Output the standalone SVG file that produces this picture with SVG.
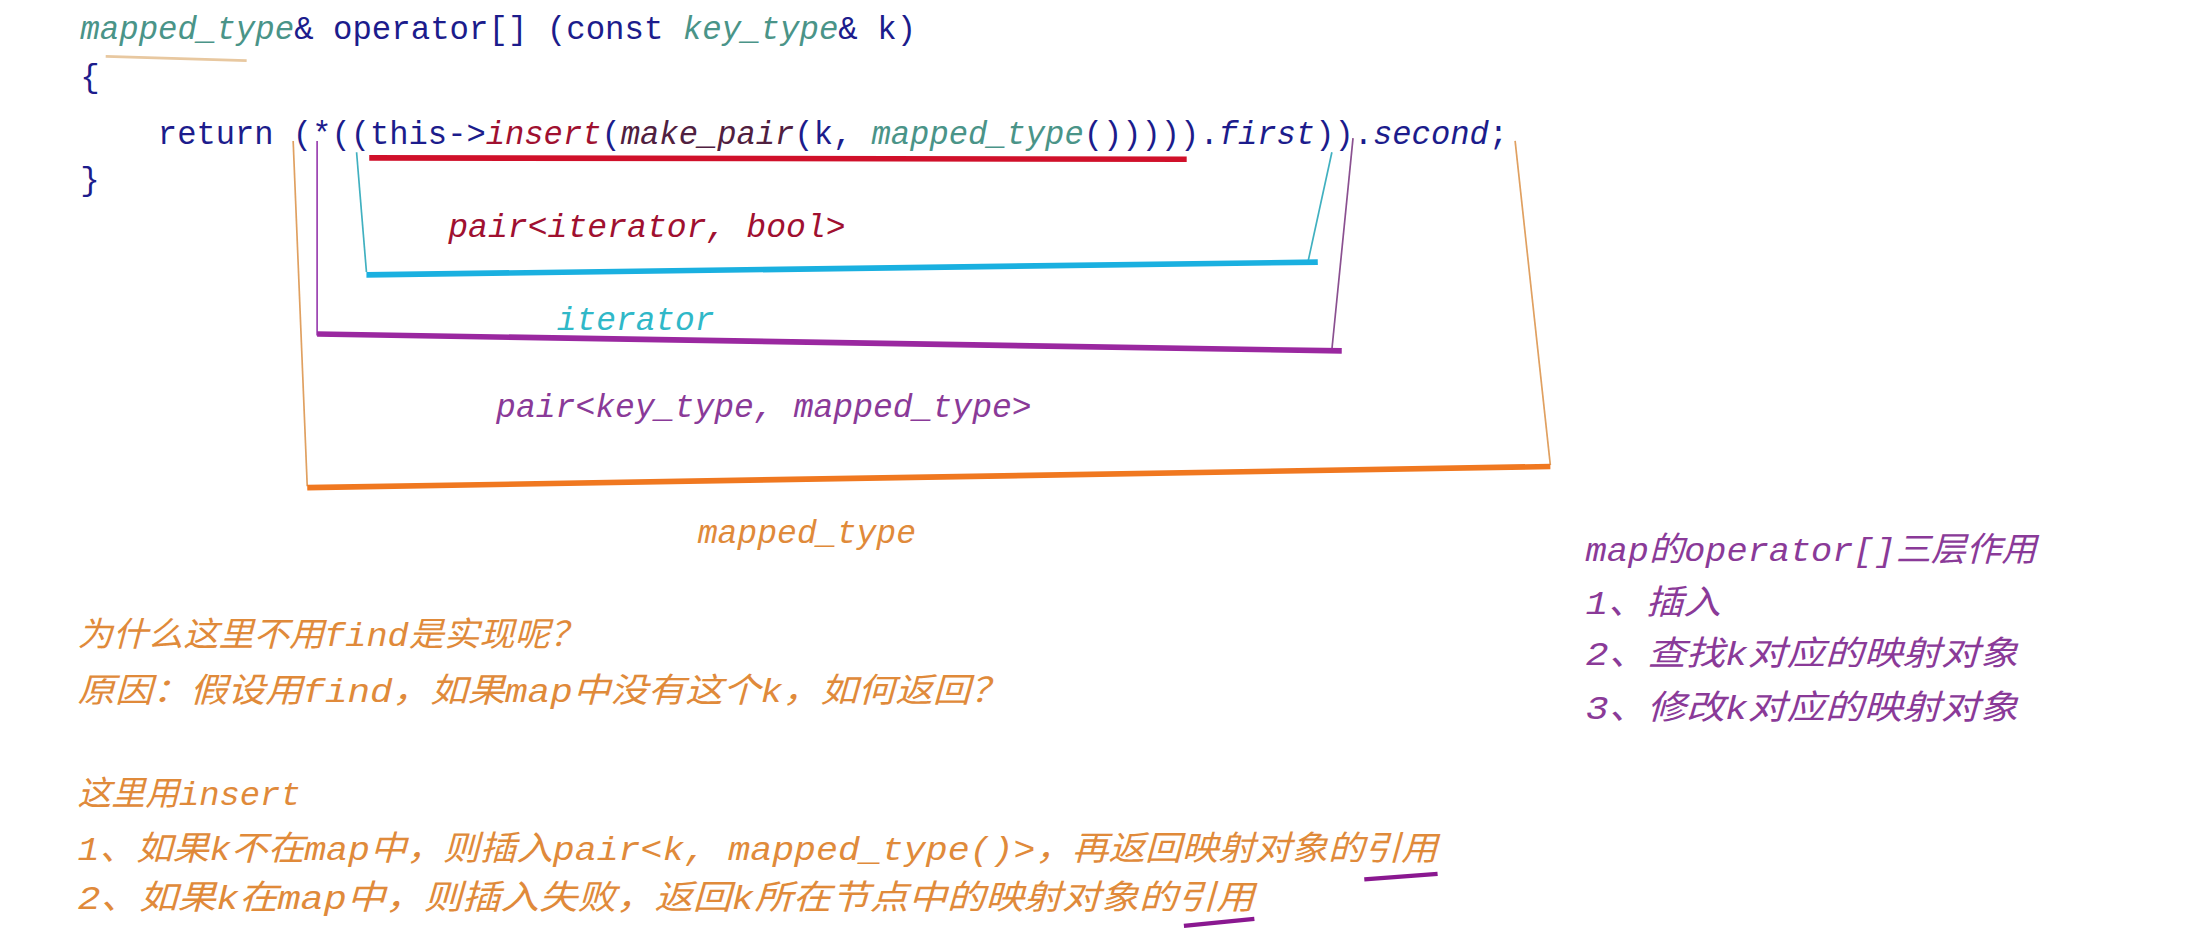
<svg xmlns="http://www.w3.org/2000/svg" width="2210" height="940" viewBox="0 0 2210 940">
<style>
text{font-family:"Liberation Mono","Noto Sans CJK SC",monospace;font-size:23px}
.cj{font-size:24px}
.i{font-style:italic}
.nv{fill:#1c1c8c}.tl{fill:#4a9488}.rd{fill:#a01030}.dk{fill:#502040}
.or{fill:#e08a3a;font-style:italic}.pu{fill:#8a3a98;font-style:italic}
.thin{fill:none;stroke-width:1.2}
</style>
<rect width="2210" height="940" fill="#fff"/>
<g transform="scale(1.4094)">
<g id="code">
<text x="57" y="28" textLength="593" lengthAdjust="spacingAndGlyphs"><tspan class="tl i">mapped_type</tspan><tspan class="nv">&amp; operator[] (const </tspan><tspan class="tl i">key_type</tspan><tspan class="nv">&amp; k)</tspan></text>
<text x="57" y="62" class="nv">{</text>
<text x="112" y="102" textLength="958" lengthAdjust="spacingAndGlyphs"><tspan class="nv">return (*((this-&gt;</tspan><tspan class="rd i">insert</tspan><tspan class="nv">(</tspan><tspan class="dk i">make_pair</tspan><tspan class="nv">(k, </tspan><tspan class="tl i">mapped_type</tspan><tspan class="nv">())))).</tspan><tspan class="nv i">first</tspan><tspan class="nv">)).</tspan><tspan class="nv i">second</tspan><tspan class="nv">;</tspan></text>
<text x="57" y="135" class="nv">}</text>
</g>
<g id="connectors">
<line x1="75" y1="40" x2="175" y2="43" stroke="#e8c8a0" stroke-width="2"/>
<line x1="262" y1="112" x2="842" y2="113" stroke="#d0102a" stroke-width="4"/>
<polyline class="thin" stroke="#40b0c0" points="253,108 260,193"/>
<polyline class="thin" stroke="#40b0c0" points="945,108 928,186"/>
<line x1="260" y1="195" x2="935" y2="186" stroke="#1ab0e0" stroke-width="4"/>
<polyline class="thin" stroke="#9a40b0" points="225,100 225,238"/>
<polyline class="thin" stroke="#8a5090" points="960,98 945,248"/>
<line x1="225" y1="237" x2="952" y2="249" stroke="#9a28a0" stroke-width="4"/>
<polyline class="thin" stroke="#e0a060" points="208,100 218,345"/>
<polyline class="thin" stroke="#e0a060" points="1075,100 1100,330"/>
<line x1="218" y1="346" x2="1100" y2="331" stroke="#f07820" stroke-width="4"/>
<line x1="968" y1="624" x2="1020" y2="620" stroke="#8a1890" stroke-width="3"/>
<line x1="840" y1="657" x2="890" y2="652" stroke="#8a1890" stroke-width="3"/>
</g>
<g id="labels">
<text x="318" y="168" class="rd i" textLength="282" lengthAdjust="spacingAndGlyphs">pair&lt;iterator, bool&gt;</text>
<text x="395" y="234" fill="#30b8c8" class="i" textLength="112" lengthAdjust="spacingAndGlyphs">iterator</text>
<text x="352" y="296" class="pu" textLength="380" lengthAdjust="spacingAndGlyphs">pair&lt;key_type, mapped_type&gt;</text>
<text x="495" y="385" class="or" textLength="155" lengthAdjust="spacingAndGlyphs">mapped_type</text>
</g>
<g id="notes-right">
<text x="1125" y="398" class="pu cj" textLength="320" lengthAdjust="spacingAndGlyphs">map的operator[]三层作用</text>
<text x="1125" y="436" class="pu cj" textLength="96" lengthAdjust="spacingAndGlyphs">1、插入</text>
<text x="1125" y="472" class="pu cj" textLength="307" lengthAdjust="spacingAndGlyphs">2、查找k对应的映射对象</text>
<text x="1125" y="510" class="pu cj" textLength="307" lengthAdjust="spacingAndGlyphs">3、修改k对应的映射对象</text>
</g>
<g id="notes-left">
<text x="55" y="458" class="or cj" textLength="360" lengthAdjust="spacingAndGlyphs">为什么这里不用find是实现呢？</text>
<text x="55" y="498" class="or cj" textLength="660" lengthAdjust="spacingAndGlyphs">原因：假设用find，如果map中没有这个k，如何返回？</text>
<text x="55" y="571" class="or cj">这里用insert</text>
<text x="55" y="610" class="or cj" textLength="965" lengthAdjust="spacingAndGlyphs">1、如果k不在map中，则插入pair&lt;k, mapped_type()&gt;，再返回映射对象的引用</text>
<text x="55" y="645" class="or cj" textLength="835" lengthAdjust="spacingAndGlyphs">2、如果k在map中，则插入失败，返回k所在节点中的映射对象的引用</text>
</g>
</g>
</svg>
